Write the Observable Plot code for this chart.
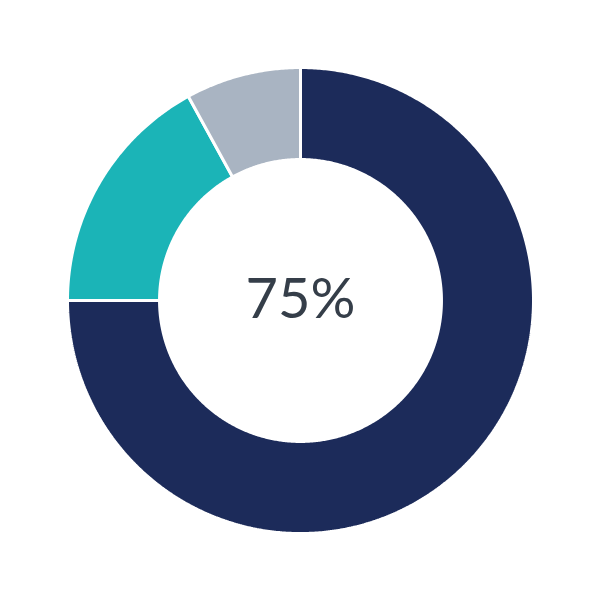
<!DOCTYPE html>
<html>
<head>
<meta charset="utf-8">
<script src="https://cdn.jsdelivr.net/npm/d3@7"></script>
<script src="https://cdn.jsdelivr.net/npm/@observablehq/plot@0.6"></script>
<style>
  html, body { margin: 0; padding: 0; background: #ffffff; }
</style>
</head>
<body>
<div id="chart"></div>
<script>
const categories = ["A", "B", "C"];
const values = [75, 17, 8];
const colors = ["#1c2b5a", "#1bb4b7", "#a9b4c2"];
const centerLabel = "75%";

const outerR = 1.0;
const innerR = 0.605;

const pie = d3.pie().sort(null).value(d => d.value);
const slices = pie(categories.map((c, i) => ({category: c, value: values[i]})));

const pts = [];
for (const s of slices) {
  const n = Math.max(8, Math.ceil((s.endAngle - s.startAngle) * 120));
  for (let k = 0; k <= n; k++) {
    const a = s.startAngle + (s.endAngle - s.startAngle) * k / n;
    pts.push({category: s.data.category, x: outerR * Math.sin(a), y: outerR * Math.cos(a)});
  }
  for (let k = n; k >= 0; k--) {
    const a = s.startAngle + (s.endAngle - s.startAngle) * k / n;
    pts.push({category: s.data.category, x: innerR * Math.sin(a), y: innerR * Math.cos(a)});
  }
}

const chart = Plot.plot({
  width: 600,
  height: 600,
  marginTop: 67,
  marginBottom: 67,
  marginLeft: 67,
  marginRight: 67,
  x: {domain: [-1, 1], axis: null},
  y: {domain: [-1, 1], axis: null},
  color: {domain: categories, range: colors},
  style: {background: "#ffffff"},
  marks: [
    Plot.line(pts, {x: "x", y: "y", z: "category", fill: "category", stroke: "#ffffff", strokeWidth: 3, strokeLinejoin: "miter", curve: "linear-closed"}),
    Plot.text([centerLabel], {x: () => 0, y: () => 0, text: d => d, fontSize: 56, fontFamily: "Lato", fill: "#353e49", textAnchor: "middle", lineAnchor: "middle"})
  ]
});
document.getElementById("chart").appendChild(chart);
</script>
</body>
</html>
